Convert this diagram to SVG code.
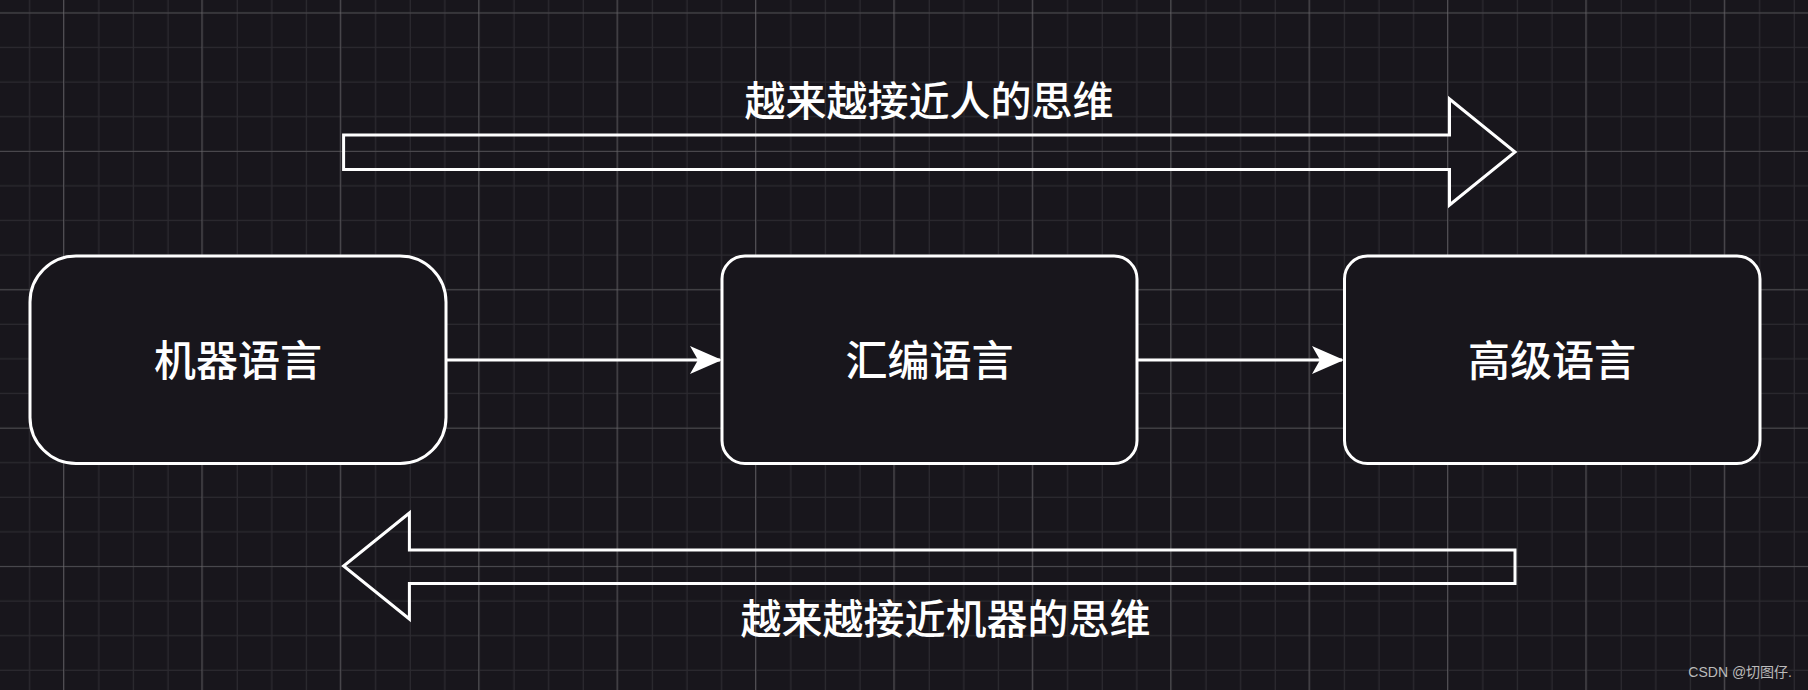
<svg xmlns="http://www.w3.org/2000/svg" width="1808" height="690" viewBox="0 0 1808 690">
<defs>
<pattern id="minor" x="-4.3" y="-21.1" width="34.6" height="34.6" patternUnits="userSpaceOnUse"><path d="M34.6 0V34.6M0 34.6H34.6" stroke="#2c2a30" stroke-width="2.5" fill="none"/></pattern>
<pattern id="major" x="-74.4" y="-124.9" width="138.4" height="138.4" patternUnits="userSpaceOnUse"><path d="M138.4 0V138.4M0 138.4H138.4" stroke="#6e6d70" stroke-width="1.2" fill="none"/></pattern>
<marker id="ah" markerWidth="32" markerHeight="32" refX="30" refY="16" orient="auto" markerUnits="userSpaceOnUse" viewBox="0 0 32 32"><path d="M0 2L32 16L0 30L8 16Z" fill="#fff"/></marker>
</defs>
<style>
.node{fill:#18161c;stroke:#fff;stroke-width:3}
.lbl{fill:#fff;font-family:"Noto Sans CJK SC",sans-serif;font-weight:500;font-size:42px;text-anchor:middle;dominant-baseline:central}
.cap{fill:#fff;font-family:"Noto Sans CJK SC",sans-serif;font-weight:500;font-size:41px;text-anchor:middle;dominant-baseline:central}
.big{fill:none;stroke:#fff;stroke-width:3}
.con{stroke:#fff;stroke-width:3;fill:none}
</style>
<rect width="1808" height="690" fill="#18161c"/>
<rect width="1808" height="690" fill="url(#minor)"/>
<rect width="1808" height="690" fill="url(#major)"/>
<g id="arrow-top"><path class="big" d="M343.6 135H1449.5V99L1515 152L1449.5 205V169.5H343.6Z" fill="#18161c"/></g>
<g id="arrow-bottom"><path class="big" d="M1515 550H409.4V513L343.6 566L409.4 619V583.5H1515Z" fill="#18161c"/></g>
<text class="cap" x="929" y="98">越来越接近人的思维</text>
<text class="cap" x="945.5" y="616">越来越接近机器的思维</text>
<g id="connectors">
<path class="con" d="M446 360H720" marker-end="url(#ah)"/>
<path class="con" d="M1137 360H1342" marker-end="url(#ah)"/>
</g>
<g id="n1"><rect class="node" x="30" y="256" width="416" height="207.5" rx="46"/><text class="lbl" x="238" y="357">机器语言</text></g>
<g id="n2"><rect class="node" x="722" y="256" width="415" height="207.5" rx="23"/><text class="lbl" x="929.5" y="357">汇编语言</text></g>
<g id="n3"><rect class="node" x="1344.5" y="256" width="415.5" height="207.5" rx="23"/><text class="lbl" x="1552" y="357">高级语言</text></g>
<text x="1792" y="672" fill="#bbb" font-family="'Liberation Sans','Noto Sans CJK SC',sans-serif" font-size="14" text-anchor="end" dominant-baseline="central">CSDN @切图仔.</text>
</svg>
